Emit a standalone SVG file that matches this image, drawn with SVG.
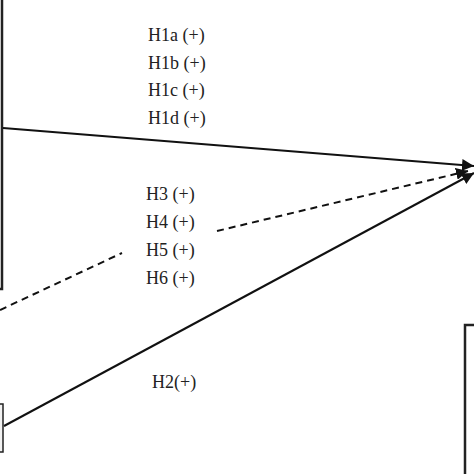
<svg xmlns="http://www.w3.org/2000/svg" width="474" height="474" viewBox="0 0 474 474">
<style>
.lbl{font-family:"Liberation Serif","Times New Roman",serif;font-size:18px;fill:#222}
.c{stroke:#111;stroke-width:2;fill:none}
.d{stroke-dasharray:7,5}
.box{stroke:#222;stroke-width:2.5;fill:#fff}
</style>
<defs>
<marker id="ah" viewBox="0 0 10 10" refX="10" refY="5" markerWidth="6" markerHeight="6" markerUnits="strokeWidth" orient="auto">
<path d="M0,0 L10,5 L0,10 z" fill="#111"/>
</marker>
</defs>
<rect width="474" height="474" fill="#fff"/>
<g id="nodeLeftTop"><rect class="box" x="-20" y="-5" width="22" height="294"/></g>
<g id="nodeLeftBottom"><rect class="box" x="-20" y="404" width="23" height="48" style="fill:#f2f2f2;stroke-width:1.5"/></g>
<g id="nodeRightBottom"><rect class="box" x="465" y="325" width="20" height="160"/></g>
<g id="nodeRightTop"></g>
<g id="connectors">
<line class="c" x1="3" y1="128" x2="474" y2="166" marker-end="url(#ah)"/>
<polyline class="c d" points="0,310 122,253" />
<line class="c d" x1="217" y1="231" x2="468" y2="171" marker-end="url(#ah)"/>
<line class="c" x1="4" y1="426" x2="474" y2="173" marker-end="url(#ah)"/>
</g>
<g id="labels">
<text class="lbl" x="148" y="41">H1a (+)</text>
<text class="lbl" x="148" y="69">H1b (+)</text>
<text class="lbl" x="148" y="96">H1c (+)</text>
<text class="lbl" x="148" y="124">H1d (+)</text>
<text class="lbl" x="146" y="200">H3 (+)</text>
<text class="lbl" x="146" y="228">H4 (+)</text>
<text class="lbl" x="146" y="256">H5 (+)</text>
<text class="lbl" x="146" y="284">H6 (+)</text>
<text class="lbl" x="152" y="388">H2(+)</text>
</g>
</svg>
